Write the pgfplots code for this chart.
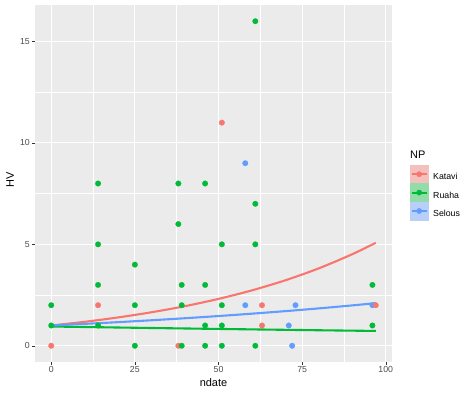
\documentclass[border=0pt]{standalone}
\usepackage{fontspec}
\setmainfont{Liberation Sans}
\usepackage{pgfplots}
\pgfplotsset{compat=1.18}
\definecolor{katavi}{HTML}{F8766D}
\definecolor{ruaha}{HTML}{00BA38}
\definecolor{selous}{HTML}{619CFF}
\definecolor{katfill}{HTML}{F4C0BD}
\definecolor{ruafill}{HTML}{91DCA8}
\definecolor{selfill}{HTML}{B8D0F7}
\definecolor{panelbg}{HTML}{EBEBEB}
\definecolor{gray30}{HTML}{4D4D4D}
\definecolor{gray20}{HTML}{333333}
\begin{document}
\begin{tikzpicture}
\begin{axis}[
  scale only axis, width=357bp, height=357bp,
  at={(0,0)}, anchor=south west,
  xmin=-4.85, xmax=101.85, ymin=-0.8, ymax=16.8,
  axis background/.style={fill=panelbg},
  axis line style={draw=none},
  xtick={0,25,50,75,100}, ytick={0,5,10,15},
  minor xtick={12.5,37.5,62.5,87.5}, minor ytick={2.5,7.5,12.5},
  grid=both,
  major grid style={white, line width=1.07bp},
  minor grid style={white, line width=0.53bp},
  tick align=outside, major tick length=2.75bp, minor tick length=0pt,
  xtick pos=left, ytick pos=left,
  major tick style={gray20, line width=0.53bp},
  /pgf/number format/assume math mode=true,
  tick label style={font=\fontsize{8.8}{10}\selectfont, text=gray30, inner sep=0pt},
  xticklabel style={anchor=north, yshift=-1.6bp},
  yticklabel style={anchor=east, xshift=-2.2bp},
  xlabel={ndate}, ylabel={HV},
  label style={font=\fontsize{11}{13}\selectfont, inner sep=0pt},
  xlabel style={at={(axis description cs:0.5,-0.0588)}, anchor=center},
  ylabel style={at={(axis description cs:-0.070,0.51)}, anchor=center},
  legend style={at={(axis description cs:1.0504,0.5518)}, anchor=north west,
    draw=none, fill=none, inner sep=0pt, outer sep=0pt, row sep=0pt,
    font=\fontsize{8.8}{10}\selectfont, nodes={inner sep=0pt}, cells={anchor=west}},
  clip=false,
]
% points
\addplot[selous, only marks, mark=*, mark size=2.8bp, mark options={draw=selous, fill=selous, line width=0.2bp}, forget plot]
  coordinates {(58,9) (58,2) (73,2) (71,1) (72,0) (96,2)};
\addplot[katavi, only marks, mark=*, mark size=2.8bp, mark options={draw=katavi, fill=katavi, line width=0.2bp}, forget plot]
  coordinates {(0,0) (14,2) (38,0) (51,11) (63,2) (63,1) (97,2)};
\addplot[ruaha, only marks, mark=*, mark size=2.8bp, mark options={draw=ruaha, fill=ruaha, line width=0.2bp}, forget plot]
  coordinates {(0,2) (0,1) (14,8) (14,5) (14,3) (14,1) (25,4) (25,2) (25,0)
   (38,8) (38,6) (39,3) (39,2) (39,0) (46,8) (46,3) (46,1) (46,0)
   (51,5) (51,2) (51,1) (51,0) (61,16) (61,7) (61,5) (61,0) (96,3) (96,1)};
% fitted curves
\addplot[katavi, line width=2.1bp, smooth, no marks, forget plot] coordinates {
  (0,1.000) (10,1.182) (20,1.398) (30,1.653) (40,1.954) (50,2.311)
  (60,2.732) (70,3.230) (80,3.819) (90,4.516) (97,5.077)};
\addplot[ruaha, line width=2.1bp, smooth, no marks, forget plot] coordinates {
  (0,0.950) (20,0.900) (40,0.853) (60,0.808) (80,0.765) (97,0.731)};
\addplot[selous, line width=2.1bp, smooth, no marks, forget plot] coordinates {
  (0,1.000) (10,1.080) (20,1.165) (30,1.258) (40,1.358) (50,1.466)
  (60,1.583) (70,1.708) (80,1.844) (90,1.991) (97,2.101)};
% legend
\addlegendimage{legend image code/.code={
  \fill[katfill] (0bp,-5.8bp) rectangle (18bp,12.2bp);
  \path[draw=none, fill=none] (18bp,3.2bp) -- (23bp,3.2bp);
  \draw[katavi, line width=1.8bp] (1.5bp,3.2bp) -- (16.5bp,3.2bp);
  \fill[katavi] (9bp,3.2bp) circle (2.6bp);}}
\addlegendentry{Katavi}
\addlegendimage{legend image code/.code={
  \fill[ruafill] (0bp,-5.8bp) rectangle (18bp,12.2bp);
  \path[draw=none, fill=none] (18bp,3.2bp) -- (23bp,3.2bp);
  \draw[ruaha, line width=1.8bp] (1.5bp,3.2bp) -- (16.5bp,3.2bp);
  \fill[ruaha] (9bp,3.2bp) circle (2.6bp);}}
\addlegendentry{Ruaha}
\addlegendimage{legend image code/.code={
  \fill[selfill] (0bp,-5.8bp) rectangle (18bp,12.2bp);
  \path[draw=none, fill=none] (18bp,3.2bp) -- (23bp,3.2bp);
  \draw[selous, line width=1.8bp] (1.5bp,3.2bp) -- (16.5bp,3.2bp);
  \fill[selous] (9bp,3.2bp) circle (2.6bp);}}
\addlegendentry{Selous}
\node[anchor=west, inner sep=0pt, font=\fontsize{11}{13}\selectfont] at (axis description cs:1.0504,0.5798) {NP};
\end{axis}
\pgfresetboundingbox
\useasboundingbox (-35bp,-33bp) rectangle (439bp,362bp);
\end{tikzpicture}
\end{document}
